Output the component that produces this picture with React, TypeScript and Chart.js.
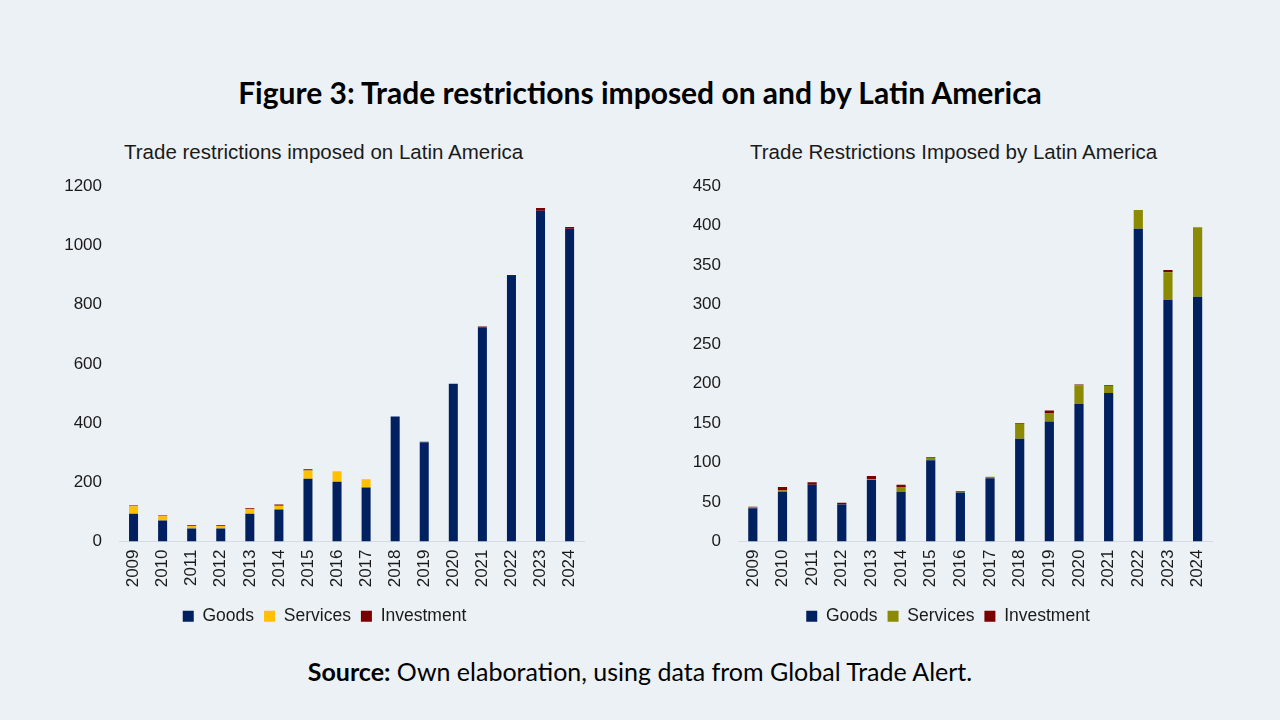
import React, { useEffect, useRef } from "react";
import { Chart, registerables } from "chart.js";

Chart.register(...registerables);

// Years shown on both panels
const years = ["2009", "2010", "2011", "2012", "2013", "2014", "2015", "2016", "2017", "2018", "2019", "2020", "2021", "2022", "2023", "2024"];

// Restrictions imposed on Latin America
const onGoods = [94, 71, 44, 44, 94, 108, 212, 202, 182, 422, 335, 533, 722, 897, 1117, 1056];
const onServices = [25, 14, 8, 8, 15, 13, 28, 35, 28, 0, 3, 0, 0, 0, 0, 0];
const onInvestment = [3, 3, 3, 3, 3, 4, 4, 0, 0, 0, 1, 0, 4, 3, 9, 6];

// Restrictions imposed by Latin America
const byGoods = [42, 63, 72, 47, 78, 63, 103, 62, 80, 130, 152, 174, 188, 396, 306, 310];
const byServices = [1, 2, 0, 0, 1, 6, 3, 1, 2, 19, 10, 24, 9, 24, 35, 88];
const byInvestment = [1, 4, 3, 2, 4, 3, 1, 1, 0, 1, 4, 1, 1, 0, 3, 0];

const BG = "#ECF1F5";
const NAVY = "#002060";
const GOLD = "#FFC000";
const OLIVE = "#8B8A00";
const MAROON = "#7A0000";
const FONT = "'Liberation Sans', Arial, sans-serif";
const HEAD_FONT = "Lato, 'Open Sans', sans-serif";

type PanelProps = {
  goods: number[];
  services: number[];
  investment: number[];
  servicesColor: string;
  max: number;
  step: number;
  left: number;
  width: number;
};

function StackedPanel({ goods, services, investment, servicesColor, max, step, left, width }: PanelProps) {
  const ref = useRef<HTMLCanvasElement | null>(null);

  useEffect(() => {
    if (!ref.current) return;
    const mk = (label: string, data: number[], color: string) => ({
      label,
      data,
      backgroundColor: color,
      borderWidth: 0,
      barPercentage: 0.62,
      categoryPercentage: 0.5,
    });
    const chart = new Chart(ref.current, {
      type: "bar",
      data: {
        labels: years,
        datasets: [
          mk("Goods", goods, NAVY),
          mk("Services", services, servicesColor),
          mk("Investment", investment, MAROON),
        ],
      },
      options: {
        animation: false,
        responsive: false,
        maintainAspectRatio: false,
        layout: { padding: { top: 4, right: 0, left: 0, bottom: 0 } },
        plugins: {
          title: { display: false },
          tooltip: { enabled: false },
          legend: {
            position: "bottom",
            labels: {
              color: "#1a1a1a",
              font: { family: FONT, size: 17.5 },
              boxWidth: 11,
              boxHeight: 11,
              padding: 10,
            },
          },
        },
        scales: {
          x: {
            stacked: true,
            grid: { display: true, color: "rgba(0,0,0,0)", drawTicks: false },
            border: { display: true, color: "#D6DCE4", width: 1 },
            ticks: {
              color: "#1a1a1a",
              font: { family: FONT, size: 17 },
              minRotation: 90,
              maxRotation: 90,
              padding: 8,
              autoSkip: false,
            },
            afterFit: (scale: any) => {
              scale.height = 56;
            },
          },
          y: {
            stacked: true,
            min: 0,
            max,
            grid: { display: false, drawTicks: false },
            border: { display: false },
            ticks: {
              stepSize: step,
              color: "#1a1a1a",
              font: { family: FONT, size: 17 },
              padding: 17,
              callback: (v: any) => String(v),
            },
            afterFit: (scale: any) => {
              scale.width = 68;
            },
          },
        },
      },
    });
    return () => chart.destroy();
  }, []);

  return (
    <canvas
      ref={ref}
      width={width}
      height={476}
      style={{ position: "absolute", left, top: 159, width, height: 476 }}
    />
  );
}

export default function App() {
  return (
    <div style={{ position: "fixed", left: 0, top: 0, width: 1280, height: 720, background: BG, overflow: "hidden" }}>
      <div
        style={{
          position: "absolute",
          left: 0,
          width: 1280,
          top: 74,
          textAlign: "center",
          fontFamily: HEAD_FONT,
          fontWeight: 700,
          fontSize: 30,
          color: "#000",
        }}
      >
        Figure 3: Trade restrictions imposed on and by Latin America
      </div>
      <div
        style={{ position: "absolute", left: 124, top: 140, fontFamily: FONT, fontSize: 20.5, color: "#1a1a1a", whiteSpace: "nowrap" }}
      >
        Trade restrictions imposed on Latin America
      </div>
      <div
        style={{ position: "absolute", left: 750, top: 140, fontFamily: FONT, fontSize: 20.5, color: "#1a1a1a", whiteSpace: "nowrap" }}
      >
        Trade Restrictions Imposed by Latin America
      </div>
      <StackedPanel
        goods={onGoods}
        services={onServices}
        investment={onInvestment}
        servicesColor={GOLD}
        max={1200}
        step={200}
        left={51}
        width={547}
      />
      <StackedPanel
        goods={byGoods}
        services={byServices}
        investment={byInvestment}
        servicesColor={OLIVE}
        max={450}
        step={50}
        left={670}
        width={556}
      />
      <div
        style={{
          position: "absolute",
          left: 0,
          width: 1280,
          top: 656,
          textAlign: "center",
          fontFamily: HEAD_FONT,
          fontSize: 25,
          color: "#000",
        }}
      >
        <b>Source:</b> Own elaboration, using data from Global Trade Alert.
      </div>
    </div>
  );
}
